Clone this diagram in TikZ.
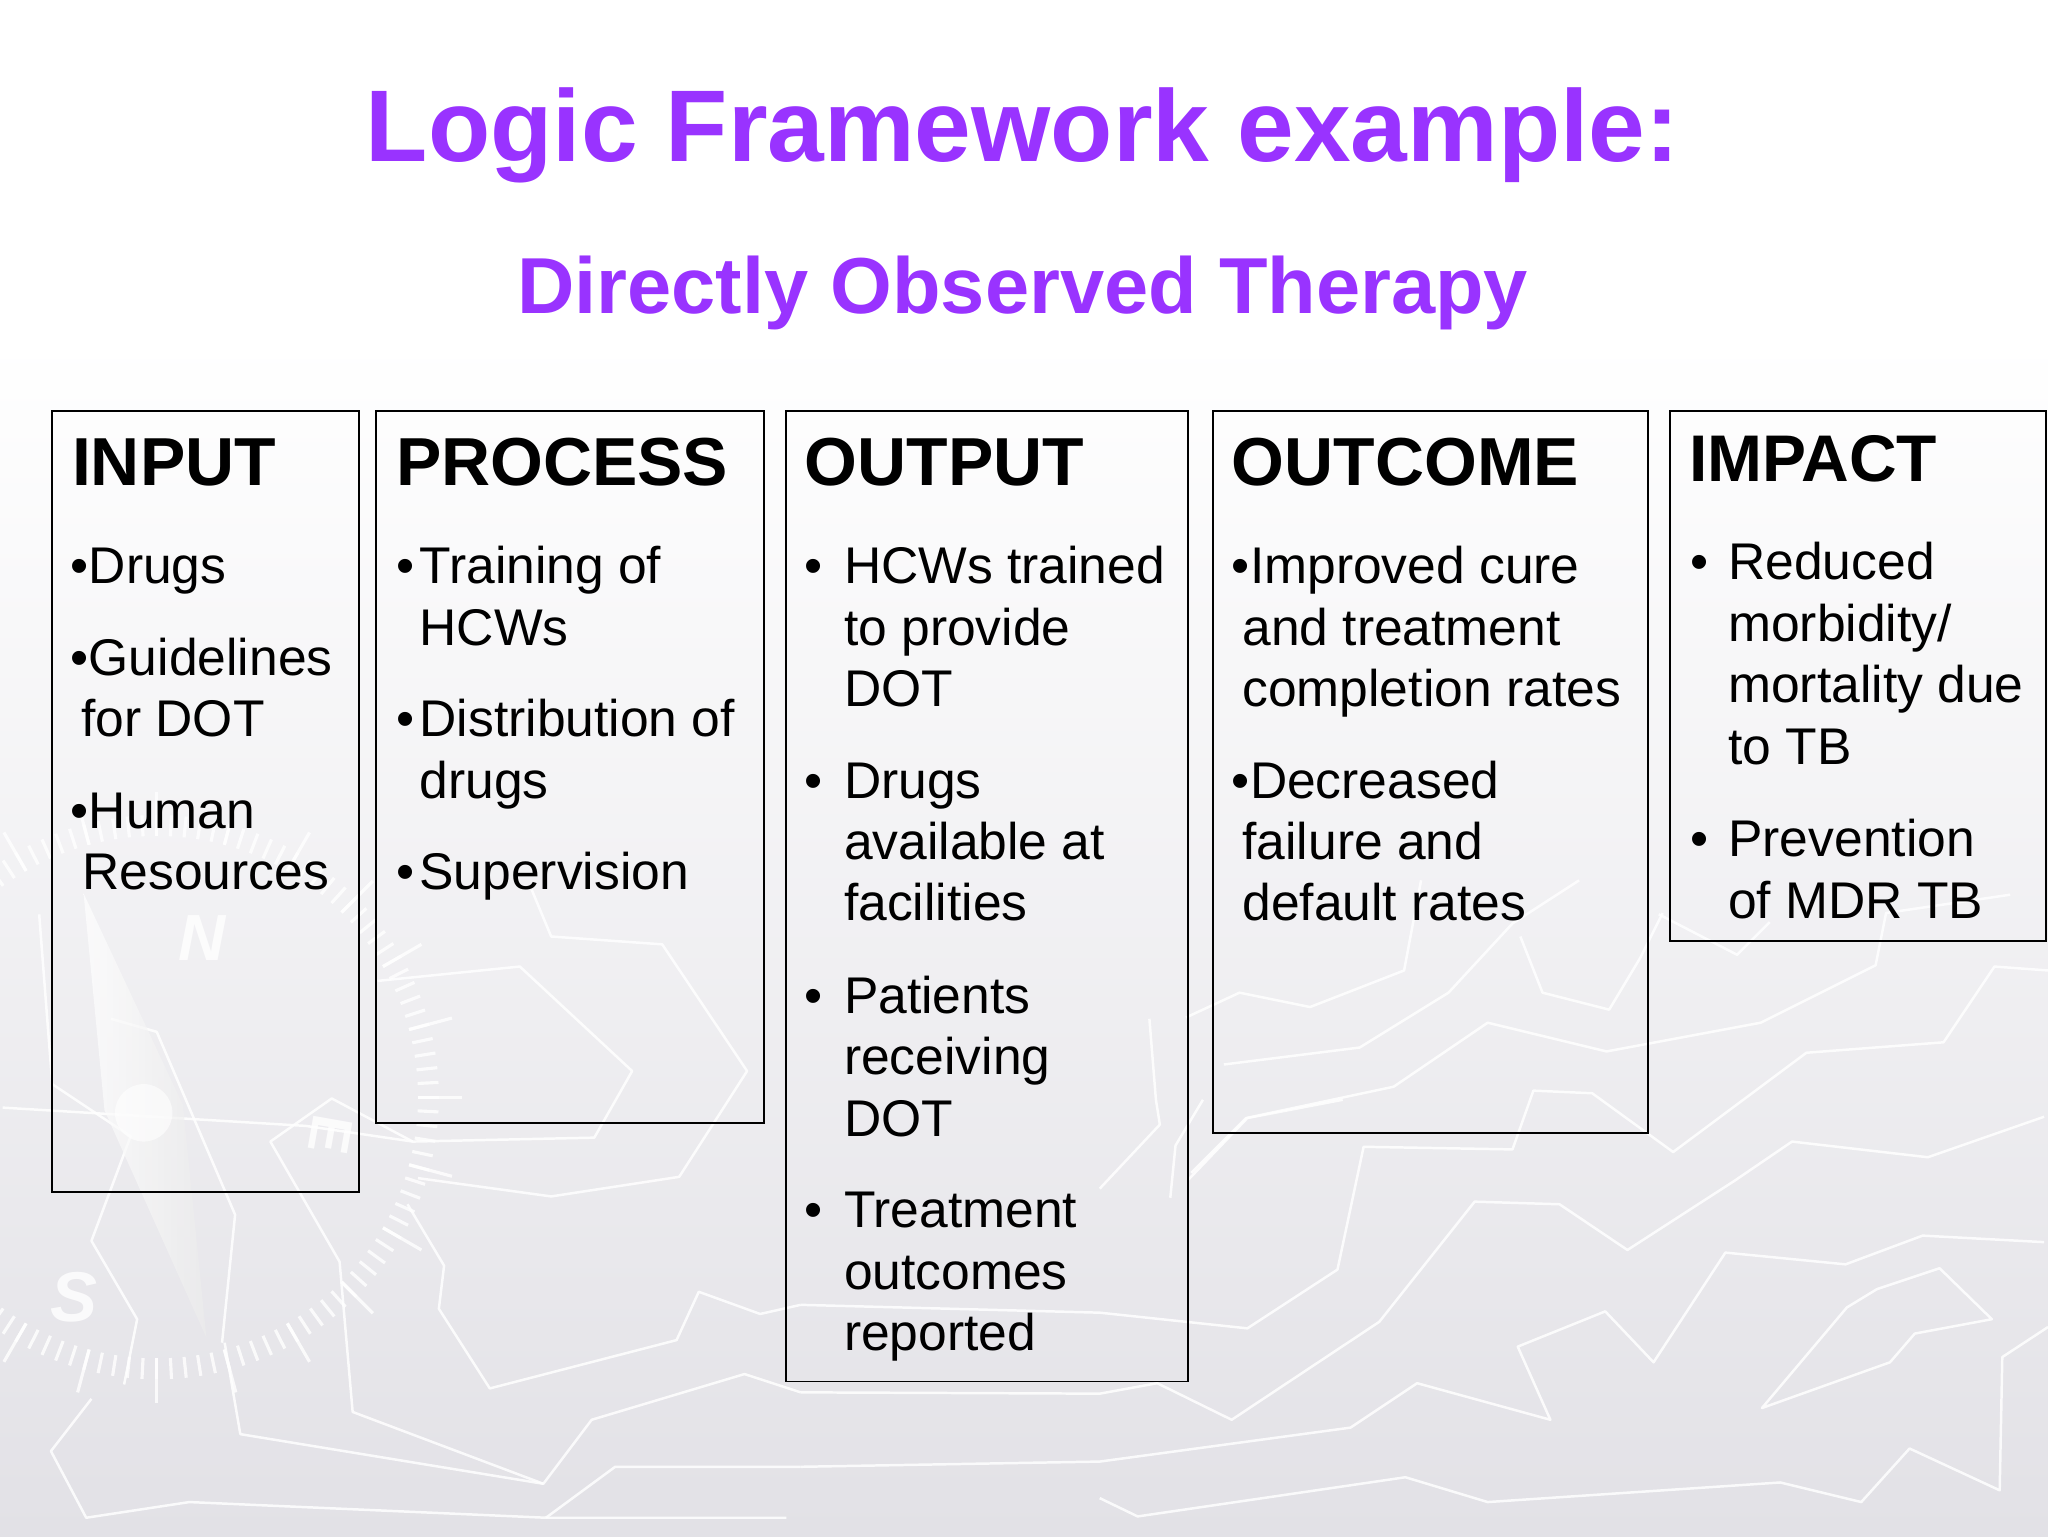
\documentclass[tikz,border=0pt]{standalone}
\usepackage{fontspec}
\setmainfont{Liberation Sans}
\definecolor{ttl}{RGB}{153,51,255}
\definecolor{bgbot}{RGB}{226,225,230}
\begin{document}
\begin{tikzpicture}[x=1pt,y=-1pt,
  boxst/.style={draw=black,line width=1.4pt,inner sep=0pt,anchor=north west},
  head/.style={font=\fontsize{52}{60}\selectfont\bfseries,anchor=base west,inner sep=0pt},
  txt/.style={font=\fontsize{39.5}{47}\selectfont,anchor=base west,inner sep=0pt},
  bgl/.style={white,line width=1.9pt,opacity=0.85,line join=round},
  tick/.style={white,line width=2.4pt,opacity=0.8},
  deco/.style={white,opacity=0.8,inner sep=0pt,font=\bfseries\itshape}]
\useasboundingbox (0,0) rectangle (1568,1176);
% background
\fill[white] (0,0) rectangle (1568,260);
\shade[top color=white,bottom color=bgbot] (0,259) rectangle (1568,1176);
% map lines
\draw[bgl] (842,1147) -- (871,1161) -- (1076,1131) -- (1139,1150) -- (1363,1135) -- (1425,1150) -- (1462,1109) -- (1531,1141) -- (1533,1039) -- (1568,1016);
\draw[bgl] (613,1123) -- (842,1119) -- (1034,1093) -- (1085,1059) -- (1187,1087) -- (1162,1031) -- (1229,1004) -- (1266,1043) -- (1321,959) -- (1413,968) -- (1472,946) -- (1565,951);
\draw[bgl] (613,1066) -- (842,1067) -- (886,1059) -- (943,1087) -- (1056,1012) -- (1129,920) -- (1194,922) -- (1246,957) -- (1328,904) -- (1372,874) -- (1476,886) -- (1565,855);
\draw[bgl] (613,999) -- (842,1005) -- (955,1017) -- (1024,972) -- (1044,878) -- (1158,880) -- (1174,835) -- (1219,837) -- (1281,882) -- (1383,806) -- (1488,798) -- (1527,740) -- (1568,743);
\draw[bgl] (1349,1078) -- (1414,1001) -- (1437,987) -- (1485,971) -- (1525,1010) -- (1466,1021) -- (1447,1043) -- cycle;
\draw[bgl] (842,910) -- (888,861) -- (885,842) -- (880,780);
\draw[bgl] (896,917) -- (900,877) -- (921,842);
\draw[bgl] (910,903) -- (955,856) -- (1028,842);
\draw[bgl] (908,779) -- (949,760) -- (1003,771) -- (1075,743) -- (1088,674);
\draw[bgl] (937,815) -- (1041,802) -- (1109,760) -- (1158,707) -- (1209,674);
\draw[bgl] (912,898) -- (954,856) -- (1067,832) -- (1139,783) -- (1230,805) -- (1348,783) -- (1436,739) -- (1444,699) -- (1539,685);
\draw[bgl] (1164,717) -- (1181,760) -- (1232,773) -- (1256,733) -- (1273,699);
\draw[bgl] (1270,700) -- (1330,731) -- (1355,706);
\draw[bgl] (70,1071) -- (39,1111) -- (66,1162) -- (145,1150) -- (418,1162) -- (602,1162);
\draw[bgl] (418,1162) -- (471,1123) -- (613,1123);
\draw[bgl] (172,1028) -- (184,1098) -- (416,1136) -- (453,1087) -- (570,1052) -- (613,1066);
\draw[bgl] (416,1136) -- (270,1081) -- (260,966) -- (207,874) -- (254,841) -- (316,874) -- (455,871) -- (484,820) -- (398,740) -- (289,751);
\draw[bgl] (312,922) -- (340,969) -- (336,1002) -- (375,1063) -- (518,1026) -- (535,989) -- (582,1006) -- (613,999);
\draw[bgl] (320,902) -- (422,916) -- (520,901) -- (572,820) -- (507,723) -- (422,717) -- (407,681);
\draw[bgl] (2,848) -- (234,862) -- (316,874);
\draw[bgl] (30,700) -- (40,830) -- (100,870) -- (70,950) -- (105,1010) -- (95,1060);
\draw[bgl] (85,780) -- (120,790) -- (180,930) -- (170,1028);
% compass
\foreach \a in {0,3,...,357}{
  \draw[tick,shift={(120,840)}] (\a:200) -- (\a:216);}
\foreach \a in {0,15,...,345}{
  \draw[tick,shift={(120,840)}] (\a:200) -- (\a:234);}
\shade[left color=white,right color=white!85!gray,opacity=0.7] (64,684) -- (140,846) -- (158,1024) -- (80,850) -- cycle;
\fill[white,opacity=0.6] (110,852) circle (22);
\node[deco,font=\fontsize{50}{50}\selectfont\bfseries\itshape] (nn) at (155,718) {N};
\node[deco,font=\fontsize{54}{54}\selectfont\bfseries\itshape] (ss) at (57,993) {S};
\node[deco,font=\fontsize{44}{44}\selectfont\bfseries,rotate=-100] (ee) at (253,869) {E};
% title
\node[font=\fontsize{78}{90}\selectfont\bfseries,text=ttl,anchor=base,inner sep=0pt] (title) at (783,124) {Logic Framework example:};
\node[font=\fontsize{60.8}{70}\selectfont\bfseries,text=ttl,anchor=base,inner sep=0pt] (subtitle) at (783,240) {Directly Observed Therapy};
% boxes
\node[boxst,minimum width=235,minimum height=598] (binput) at (39,314) {};
\node[boxst,minimum width=297,minimum height=545] (bprocess) at (287,314) {};
\node[boxst,minimum width=308,minimum height=743] (boutput) at (601,314) {};
\node[boxst,minimum width=333,minimum height=553] (boutcome) at (928,314) {};
\node[boxst,minimum width=288,minimum height=406] (bimpact) at (1278,314) {};
% headers
\node[head] (hin) at (55,372) {INPUT};
\node[head] (hpr) at (303,372) {PROCESS};
\node[head] (hou) at (616,372) {OUTPUT};
\node[head] (hoc) at (943,372) {OUTCOME};
\node[head,font=\fontsize{50.5}{60}\selectfont\bfseries] (him) at (1293,369) {IMPACT};
% INPUT
\node[txt] (i1) at (54,447) {•Drugs};
\node[txt] (i2) at (54,517) {•Guidelines};
\node[txt] (i2b) at (62,564) {for DOT};
\node[txt] (i3) at (54,634) {•Human};
\node[txt] (i3b) at (63,681) {Resources};
% PROCESS
\node[txt] (p1d) at (303,447) {•};
\node[txt] (p1) at (321,447) {Training of};
\node[txt] (p1b) at (321,494) {HCWs};
\node[txt] (p2d) at (303,564) {•};
\node[txt] (p2) at (321,564) {Distribution of};
\node[txt] (p2b) at (321,611) {drugs};
\node[txt] (p3d) at (303,681) {•};
\node[txt] (p3) at (321,681) {Supervision};
% OUTPUT
\node[txt] (o1d) at (616,447) {•};
\node[txt] (o1) at (646,447) {HCWs trained};
\node[txt] (o1b) at (646,494) {to provide};
\node[txt] (o1c) at (646,541) {DOT};
\node[txt] (o2d) at (616,611) {•};
\node[txt] (o2) at (646,611) {Drugs};
\node[txt] (o2b) at (646,658) {available at};
\node[txt] (o2c) at (646,705) {facilities};
\node[txt] (o3d) at (616,776) {•};
\node[txt] (o3) at (646,776) {Patients};
\node[txt] (o3b) at (646,823) {receiving};
\node[txt] (o3c) at (646,870) {DOT};
\node[txt] (o4d) at (616,940) {•};
\node[txt] (o4) at (646,940) {Treatment};
\node[txt] (o4b) at (646,987) {outcomes};
\node[txt] (o4c) at (646,1034) {reported};
% OUTCOME
\node[txt] (c1) at (943,447) {•Improved cure};
\node[txt] (c1b) at (951,494) {and treatment};
\node[txt] (c1c) at (951,541) {completion rates};
\node[txt] (c2) at (943,611) {•Decreased};
\node[txt] (c2b) at (951,658) {failure and};
\node[txt] (c2c) at (951,705) {default rates};
% IMPACT
\node[txt] (m1d) at (1294,444) {•};
\node[txt] (m1) at (1323,444) {Reduced};
\node[txt] (m1b) at (1323,491) {morbidity/};
\node[txt] (m1c) at (1323,538) {mortality due};
\node[txt] (m1e) at (1323,585) {to TB};
\node[txt] (m2d) at (1294,656) {•};
\node[txt] (m2) at (1323,656) {Prevention};
\node[txt] (m2b) at (1323,703) {of MDR TB};
\end{tikzpicture}
\end{document}
